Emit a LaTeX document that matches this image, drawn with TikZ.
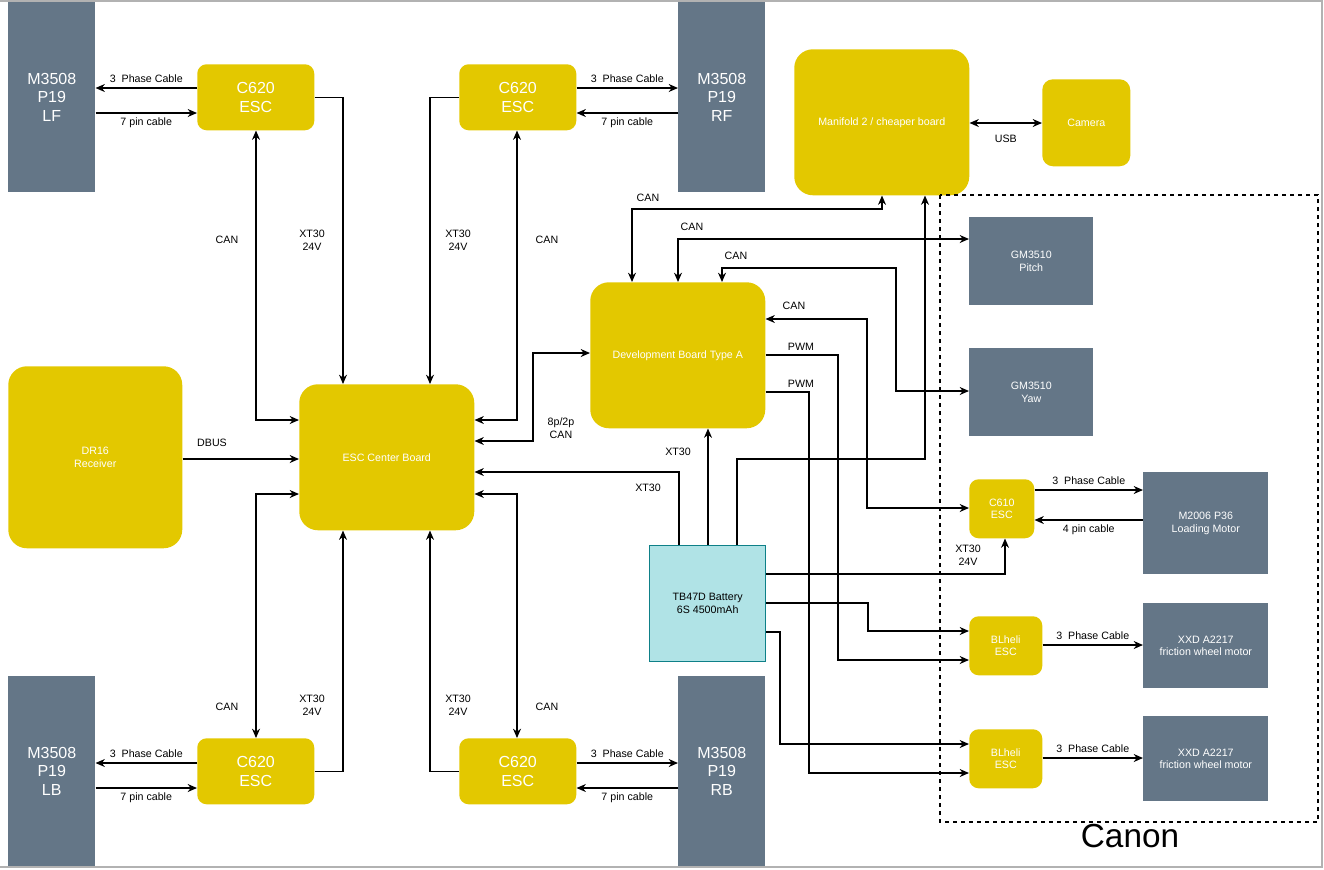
\documentclass[tikz,border=0pt]{standalone}
\usepackage{fontspec}
\setmainfont{Liberation Sans}
\usetikzlibrary{arrows.meta}
\definecolor{esc}{HTML}{E3C800}
\definecolor{mot}{HTML}{647687}
\definecolor{bat}{HTML}{B0E3E6}
\definecolor{batline}{HTML}{0E8088}
\begin{document}
\begin{tikzpicture}[x=0.75pt,y=-0.75pt,
  box/.style={draw=none,inner sep=0pt,anchor=north west,align=center,text=white,font=\fontsize{12}{14}\selectfont},
  sz/.style 2 args={minimum width=#1*0.75pt,minimum height=#2*0.75pt},
  ybox/.style={box,fill=esc,rounded corners=7pt},
  gbox/.style={box,fill=mot},
  sm/.style={font=\fontsize{8}{9.5}\selectfont},
  lbl/.style={font=\fontsize{8}{9.5}\selectfont,align=center},
  arr/.style={-{Stealth[length=7pt,width=6pt]},line width=0.9pt},
  darr/.style={{Stealth[length=7pt,width=6pt]}-{Stealth[length=7pt,width=6pt]},line width=0.9pt}]
\useasboundingbox (0,0) rectangle (1324,869);
\draw[gray!60,line width=1pt] (0,1) -- (1322,1) -- (1322,867) -- (0,867);
% motors
\node[gbox,sz={87}{190}] (lf) at (8,2) {M3508\\P19\\LF};
\node[gbox,sz={87}{190}] (rf) at (678,2) {M3508\\P19\\RF};
\node[gbox,sz={87}{190}] (lb) at (8,676) {M3508\\P19\\LB};
\node[gbox,sz={87}{190}] (rb) at (678,676) {M3508\\P19\\RB};
% C620
\node[ybox,sz={117}{66}] (clf) at (197,64) {C620\\ESC};
\node[ybox,sz={117}{66}] (crf) at (459,64) {C620\\ESC};
\node[ybox,sz={117}{66}] (clb) at (197,738) {C620\\ESC};
\node[ybox,sz={117}{66}] (crb) at (459,738) {C620\\ESC};
% main boards
\node[ybox,sm,sz={175}{146},rounded corners=14pt] (man) at (794,49) {Manifold 2 / cheaper board};
\node[ybox,sm,sz={88}{87},rounded corners=8pt] (cam) at (1042,79) {Camera};
\node[ybox,sm,sz={175}{146},rounded corners=14pt] (dev) at (590,282) {Development Board Type A};
\node[ybox,sm,sz={174}{182},rounded corners=14pt] (dr) at (8,366) {DR16\\Receiver};
\node[ybox,sm,sz={175}{146},rounded corners=14pt] (ctr) at (299,384) {ESC Center Board};
\node[box,sm,text=black,fill=bat,draw=batline,line width=1pt,sz={116}{116}] (bat) at (649,545) {TB47D Battery\\6S 4500mAh};
% canon
\draw[dashed,line width=0.9pt] (940,195) rectangle (1318,822);
\node[font=\fontsize{25}{28}\selectfont] (canon) at (1130,836) {Canon};
\node[gbox,sm,sz={124}{88}] (pitch) at (969,217) {GM3510\\Pitch};
\node[gbox,sm,sz={124}{88}] (yaw) at (969,348) {GM3510\\Yaw};
\node[ybox,sm,sz={65}{59}] (c610) at (969,479) {C610\\ESC};
\node[gbox,sm,sz={125}{102}] (m2006) at (1143,472) {M2006 P36\\Loading Motor};
\node[ybox,sm,sz={73}{59}] (bl1) at (969,616) {BLheli\\ESC};
\node[gbox,sm,sz={125}{85}] (xxd1) at (1143,603) {XXD A2217\\friction wheel motor};
\node[ybox,sm,sz={73}{59}] (bl2) at (969,729) {BLheli\\ESC};
\node[gbox,sm,sz={125}{85}] (xxd2) at (1143,716) {XXD A2217\\friction wheel motor};
% motor cables
\draw[arr] (clf.west |- 0,88) -- (lf.east |- 0,88) node[lbl,midway,above] {3 \ Phase Cable};
\draw[arr] (lf.east |- 0,113) -- (clf.west |- 0,113) node[lbl,midway,below] {7 pin cable};
\draw[arr] (crf.east |- 0,88) -- (rf.west |- 0,88) node[lbl,midway,above] {3 \ Phase Cable};
\draw[arr] (rf.west |- 0,113) -- (crf.east |- 0,113) node[lbl,midway,below] {7 pin cable};
\draw[arr] (clb.west |- 0,763) -- (lb.east |- 0,763) node[lbl,midway,above] {3 \ Phase Cable};
\draw[arr] (lb.east |- 0,788) -- (clb.west |- 0,788) node[lbl,midway,below] {7 pin cable};
\draw[arr] (crb.east |- 0,763) -- (rb.west |- 0,763) node[lbl,midway,above] {3 \ Phase Cable};
\draw[arr] (rb.west |- 0,788) -- (crb.east |- 0,788) node[lbl,midway,below] {7 pin cable};
% C620 to center
\draw[arr] (clf.east) -| (ctr.north -| 343,0);
\draw[arr] (crf.west) -| (ctr.north -| 430,0);
\draw[arr] (clb.east) -| (ctr.south -| 343,0);
\draw[arr] (crb.west) -| (ctr.south -| 430,0);
\draw[darr] (clf.south -| 256,0) |- (ctr.west |- 0,420);
\draw[darr] (crf.south -| 517,0) |- (ctr.east |- 0,420);
\draw[darr] (ctr.west |- 0,494) -| (clb.north -| 256,0);
\draw[darr] (ctr.east |- 0,494) -| (crb.north -| 517,0);
\node[lbl] at (227,240) {CAN};
\node[lbl] at (312,240) {XT30\\24V};
\node[lbl] at (458,240) {XT30\\24V};
\node[lbl] at (547,240) {CAN};
\node[lbl] at (227,707) {CAN};
\node[lbl] at (312,705) {XT30\\24V};
\node[lbl] at (458,705) {XT30\\24V};
\node[lbl] at (547,707) {CAN};
% receiver, dev board
\draw[arr] (dr.east |- 0,459) -- (ctr.west |- 0,459);
\node[lbl] at (212,443) {DBUS};
\draw[darr] (ctr.east |- 0,441) -- (533,441) |- (dev.west |- 0,353);
\node[lbl] at (561,428) {8p/2p\\CAN};
% battery
\draw[arr] (bat.north -| 679,0) |- (ctr.east |- 0,472);
\node[lbl] at (648,488) {XT30};
\draw[arr] (bat.north -| 708,0) -- (dev.south -| 708,0);
\node[lbl] at (678,452) {XT30};
\draw[arr] (bat.north -| 737,0) -- (737,459) -| (man.south -| 925,0);
\draw[arr] (bat.east |- 0,574) -| (c610.south -| 1005,0);
\node[lbl] at (968,555) {XT30\\24V};
\draw[arr] (bat.east |- 0,603) -- (868,603) |- (bl1.west |- 0,631);
\draw[arr] (bat.east |- 0,632) -- (780,632) |- (bl2.west |- 0,744);
% CAN bus from dev board
\draw[darr] (man.south -| 882,0) -- (882,209) -| (dev.north -| 632,0);
\node[lbl] at (648,198) {CAN};
\draw[darr] (dev.north -| 678,0) |- (pitch.west |- 0,239);
\node[lbl] at (692,227) {CAN};
\draw[darr] (dev.north -| 722,0) -- (722,268) -- (896,268) |- (yaw.west |- 0,391);
\node[lbl] at (736,256) {CAN};
\draw[darr] (dev.east |- 0,319) -- (867,319) |- (c610.west |- 0,508);
\node[lbl] at (794,306) {CAN};
\draw[arr] (dev.east |- 0,355) -- (838,355) |- (bl1.west |- 0,660);
\node[lbl] at (801,347) {PWM};
\draw[arr] (dev.east |- 0,392) -- (809,392) |- (bl2.west |- 0,773);
\node[lbl] at (801,384) {PWM};
% right side
\draw[darr] (man.east |- 0,123) -- (cam.west |- 0,123) node[lbl,midway,below=5pt] {USB};
\draw[arr] (c610.east |- 0,490) -- (m2006.west |- 0,490) node[lbl,midway,above] {3 \ Phase Cable};
\draw[arr] (m2006.west |- 0,520) -- (c610.east |- 0,520) node[lbl,midway,below] {4 pin cable};
\draw[arr] (bl1.east |- 0,645) -- (xxd1.west |- 0,645) node[lbl,midway,above] {3 \ Phase Cable};
\draw[arr] (bl2.east |- 0,758) -- (xxd2.west |- 0,758) node[lbl,midway,above] {3 \ Phase Cable};
\end{tikzpicture}
\end{document}
